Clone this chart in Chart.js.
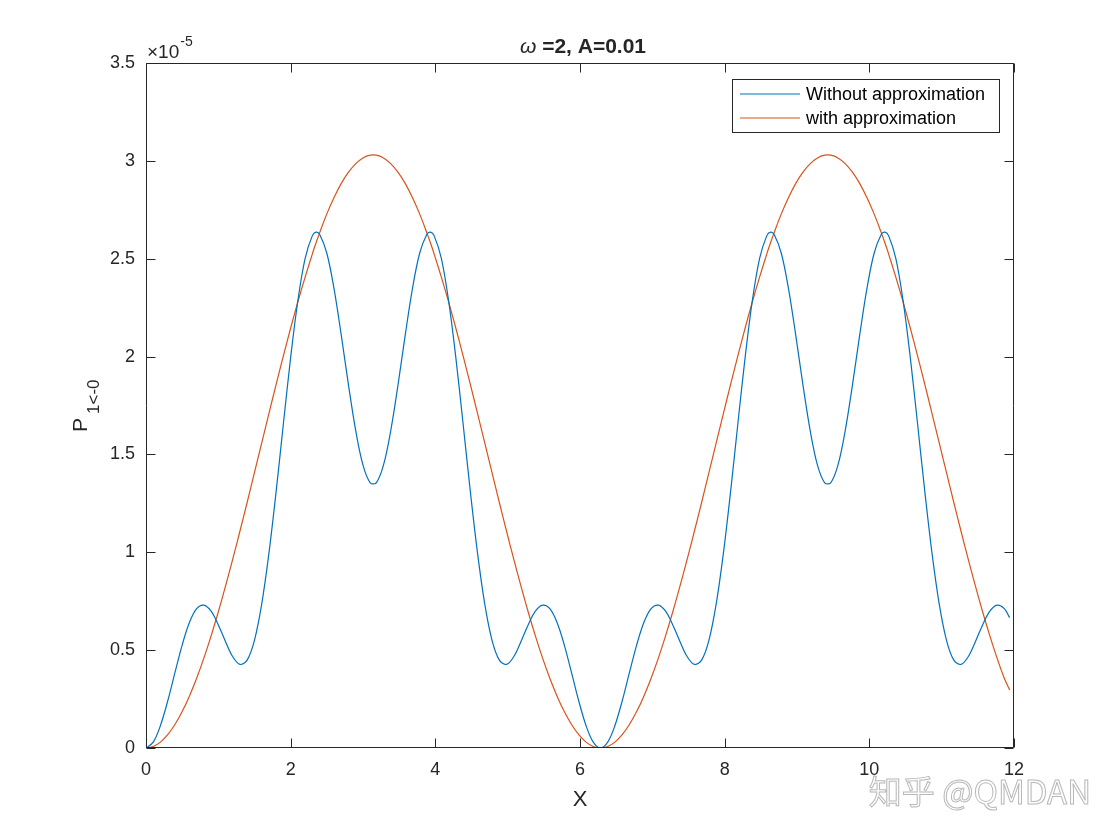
<!DOCTYPE html>
<html>
<head>
<meta charset="utf-8">
<title>omega=2, A=0.01</title>
<script src="https://cdn.jsdelivr.net/npm/chart.js@4/dist/chart.umd.min.js"></script>
<style>
  html, body { margin: 0; padding: 0; background: #ffffff; }
  #wrap { width: 1120px; height: 840px; }
</style>
</head>
<body>
<div id="wrap"><canvas id="probChart" width="1120" height="840"></canvas></div>
<script>
// x positions of the read points
const xValues = [
  0, 0.1, 0.2, 0.3, 0.4, 0.5, 0.6, 0.7, 0.8, 0.9, 1.0, 1.1, 1.2, 1.3, 1.4, 1.5, 1.6, 1.7, 1.8, 1.9,
  2.0, 2.1, 2.2, 2.3, 2.35, 2.4, 2.5, 2.6, 2.7, 2.8, 2.9, 3.0, 3.1,
  3.183, 3.283, 3.383, 3.483, 3.583, 3.683, 3.783, 3.883, 3.933, 3.983, 4.083, 4.183, 4.283, 4.383, 4.483, 4.583,
  4.683, 4.783, 4.883, 4.983, 5.083, 5.183, 5.283, 5.383, 5.483, 5.583, 5.683, 5.783, 5.883, 5.983, 6.083, 6.183, 6.283,
  6.383, 6.483, 6.583, 6.683, 6.783, 6.883, 6.983, 7.083, 7.183, 7.283, 7.383, 7.483, 7.583, 7.683, 7.783, 7.883,
  7.983, 8.083, 8.183, 8.283, 8.383, 8.483, 8.583, 8.633, 8.683, 8.783, 8.883, 8.983, 9.083, 9.183, 9.283, 9.383,
  9.466, 9.566, 9.666, 9.766, 9.866, 9.966, 10.066, 10.166, 10.216, 10.266, 10.366, 10.466, 10.566, 10.666, 10.766,
  10.866, 10.966, 11.066, 11.166, 11.266, 11.366, 11.466, 11.566, 11.666, 11.766, 11.866, 11.94
];

// P(1<-0), units of 1e-5, without approximation (blue)
const withoutApprox = [
  0, 0.030, 0.115, 0.240, 0.385, 0.526, 0.641, 0.712, 0.730, 0.699, 0.629, 0.543, 0.466, 0.427, 0.450, 0.551, 0.736, 0.997, 1.314, 1.659,
  1.996, 2.287, 2.502, 2.618, 2.636, 2.625, 2.528, 2.346, 2.108, 1.853, 1.620, 1.445, 1.355,
  1.355, 1.445, 1.620, 1.853, 2.108, 2.346, 2.528, 2.625, 2.636, 2.618, 2.502, 2.287, 1.996, 1.659, 1.314, 0.997,
  0.736, 0.551, 0.450, 0.427, 0.466, 0.543, 0.629, 0.699, 0.730, 0.712, 0.641, 0.526, 0.385, 0.240, 0.115, 0.030, 0,
  0.030, 0.115, 0.240, 0.385, 0.526, 0.641, 0.712, 0.730, 0.699, 0.629, 0.543, 0.466, 0.427, 0.450, 0.551, 0.736,
  0.997, 1.314, 1.659, 1.996, 2.287, 2.502, 2.618, 2.636, 2.625, 2.528, 2.346, 2.108, 1.853, 1.620, 1.445, 1.355,
  1.355, 1.445, 1.620, 1.853, 2.108, 2.346, 2.528, 2.625, 2.636, 2.618, 2.502, 2.287, 1.996, 1.659, 1.314,
  0.997, 0.736, 0.551, 0.450, 0.427, 0.466, 0.543, 0.629, 0.699, 0.730, 0.712, 0.666
];

// P(1<-0), units of 1e-5, with approximation (orange)
const withApprox = [
  0, 0.008, 0.030, 0.068, 0.120, 0.186, 0.265, 0.356, 0.459, 0.573, 0.696, 0.828, 0.966, 1.110, 1.257, 1.408, 1.559, 1.710, 1.859, 2.005,
  2.146, 2.280, 2.406, 2.525, 2.580, 2.632, 2.729, 2.813, 2.885, 2.942, 2.986, 3.015, 3.029,
  3.029, 3.015, 2.986, 2.942, 2.885, 2.813, 2.729, 2.632, 2.580, 2.525, 2.406, 2.280, 2.146, 2.005, 1.859, 1.710,
  1.559, 1.408, 1.257, 1.110, 0.966, 0.828, 0.696, 0.573, 0.459, 0.356, 0.265, 0.186, 0.120, 0.068, 0.030, 0.008, 0,
  0.008, 0.030, 0.068, 0.120, 0.186, 0.265, 0.356, 0.459, 0.573, 0.696, 0.828, 0.966, 1.110, 1.257, 1.408, 1.559,
  1.710, 1.859, 2.005, 2.146, 2.280, 2.406, 2.525, 2.580, 2.632, 2.729, 2.813, 2.885, 2.942, 2.986, 3.015, 3.029,
  3.029, 3.015, 2.986, 2.942, 2.885, 2.813, 2.729, 2.632, 2.580, 2.525, 2.406, 2.280, 2.146, 2.005, 1.859,
  1.710, 1.559, 1.408, 1.257, 1.110, 0.966, 0.828, 0.696, 0.573, 0.459, 0.356, 0.296
];

const xTicks = [0, 2, 4, 6, 8, 10, 12];
const yTicks = [0, 0.5, 1, 1.5, 2, 2.5, 3, 3.5];
const seriesNames = ['Without approximation', 'with approximation'];

const FONT = '"Liberation Sans", Arial, Helvetica, sans-serif';
const INK = '#262626';

// box, inward ticks, title, labels, legend, watermark (MATLAB look)
const matlabDecor = {
  id: 'matlabDecor',
  afterDatasetsDraw(chart) {
    const ctx = chart.ctx;
    const a = chart.chartArea;
    const xs = chart.scales.x, ys = chart.scales.y;
    const L = Math.round(a.left) + 0.5, R = Math.round(a.right) - 0.5;
    const T = Math.round(a.top) + 0.5, B = Math.round(a.bottom) - 0.5;
    const tl = 9;

    ctx.save();
    ctx.strokeStyle = INK;
    ctx.lineWidth = 1;
    ctx.beginPath();
    ctx.rect(L, T, R - L, B - T);
    xTicks.forEach(v => {
      const px = Math.round(xs.getPixelForValue(v)) + 0.5;
      ctx.moveTo(px, B); ctx.lineTo(px, B - tl);
      ctx.moveTo(px, T); ctx.lineTo(px, T + tl);
    });
    yTicks.forEach(v => {
      const py = Math.round(ys.getPixelForValue(v)) + 0.5;
      ctx.moveTo(L, py); ctx.lineTo(L + tl, py);
      ctx.moveTo(R, py); ctx.lineTo(R - tl, py);
    });
    ctx.stroke();

    // exponent label
    ctx.fillStyle = INK;
    ctx.textBaseline = 'alphabetic';
    ctx.textAlign = 'left';
    ctx.font = '19px ' + FONT;
    ctx.fillText('\u00d710', 147, 58);
    const w10 = ctx.measureText('\u00d710').width;
    ctx.font = '14px ' + FONT;
    ctx.fillText('-5', 147 + w10 + 1, 46);

    // title: italic omega + bold rest
    const tFont = 21;
    ctx.font = 'italic ' + tFont + 'px ' + FONT;
    const t1 = '\u03c9 ';
    const w1 = ctx.measureText(t1).width;
    ctx.font = 'bold ' + tFont + 'px ' + FONT;
    const t2 = '=2, A=0.01';
    const w2 = ctx.measureText(t2).width;
    const tx = 583 - (w1 + w2) / 2;
    ctx.font = 'italic ' + tFont + 'px ' + FONT;
    ctx.fillText(t1, tx, 53);
    ctx.font = 'bold ' + tFont + 'px ' + FONT;
    ctx.fillText(t2, tx + w1, 53);

    // x label
    ctx.textAlign = 'center';
    ctx.font = '22px ' + FONT;
    ctx.fillText('X', (a.left + a.right) / 2, 806);

    // y label P_{1<-0}
    ctx.save();
    ctx.translate(87, 432);
    ctx.rotate(-Math.PI / 2);
    ctx.textAlign = 'left';
    ctx.font = '21px ' + FONT;
    ctx.fillText('P', 0, 0);
    const wp = ctx.measureText('P').width;
    ctx.font = '17px ' + FONT;
    ctx.fillText('1<-0', wp + 4, 12);
    ctx.restore();

    // legend
    const lx = 732.5, ly = 79.5, lw = 267, lh = 53;
    ctx.fillStyle = '#ffffff';
    ctx.fillRect(lx, ly, lw, lh);
    ctx.strokeStyle = INK;
    ctx.lineWidth = 1;
    ctx.strokeRect(lx, ly, lw, lh);
    chart.data.datasets.forEach((ds, i) => {
      const ry = 94 + i * 24;
      ctx.strokeStyle = ds.borderColor;
      ctx.lineWidth = 1.2;
      ctx.beginPath();
      ctx.moveTo(740, ry); ctx.lineTo(800, ry);
      ctx.stroke();
      ctx.fillStyle = '#000000';
      ctx.font = '18px ' + FONT;
      ctx.textAlign = 'left';
      ctx.textBaseline = 'middle';
      ctx.fillText(ds.label, 806, ry + 1);
    });

    // watermark
    ctx.textBaseline = 'alphabetic';
    ctx.textAlign = 'right';
    ctx.font = '33px "Noto Sans CJK SC", sans-serif';
    ctx.lineWidth = 1;
    ctx.fillStyle = 'rgba(255,255,255,0.85)';
    ctx.strokeStyle = '#b8b8b8';
    ctx.fillText('\u77e5\u4e4e @QMDAN', 1091, 804);
    ctx.strokeText('\u77e5\u4e4e @QMDAN', 1091, 804);
    ctx.restore();
  }
};

const ctx = document.getElementById('probChart').getContext('2d');
new Chart(ctx, {
  type: 'line',
  data: {
    datasets: [
      {
        label: seriesNames[0],
        data: xValues.map((x, i) => ({ x: x, y: withoutApprox[i] })),
        borderColor: '#0072BD',
        borderWidth: 1.2,
        pointRadius: 0,
        fill: false,
        tension: 0.35
      },
      {
        label: seriesNames[1],
        data: xValues.map((x, i) => ({ x: x, y: withApprox[i] })),
        borderColor: '#D95319',
        borderWidth: 1.2,
        pointRadius: 0,
        fill: false,
        tension: 0.35
      }
    ]
  },
  options: {
    responsive: false,
    animation: false,
    devicePixelRatio: 1,
    layout: { padding: { top: 63, right: 106, left: 0, bottom: 0 } },
    plugins: {
      legend: { display: false },
      title: { display: false },
      tooltip: { enabled: false }
    },
    scales: {
      x: {
        type: 'linear',
        min: 0,
        max: 12,
        grid: { display: false, drawTicks: false },
        border: { display: false },
        afterBuildTicks: s => { s.ticks = xTicks.map(v => ({ value: v })); },
        ticks: {
          color: INK,
          font: { family: FONT, size: 18 },
          padding: 11,
          maxRotation: 0,
          callback: v => String(v)
        },
        afterFit: s => { s.height = 92; }
      },
      y: {
        min: 0,
        max: 3.5,
        grid: { display: false, drawTicks: false },
        border: { display: false },
        afterBuildTicks: s => { s.ticks = yTicks.map(v => ({ value: v })); },
        ticks: {
          color: INK,
          font: { family: FONT, size: 18 },
          padding: 11,
          callback: v => String(v)
        },
        afterFit: s => { s.width = 146; }
      }
    }
  },
  plugins: [matlabDecor]
});
</script>
</body>
</html>
